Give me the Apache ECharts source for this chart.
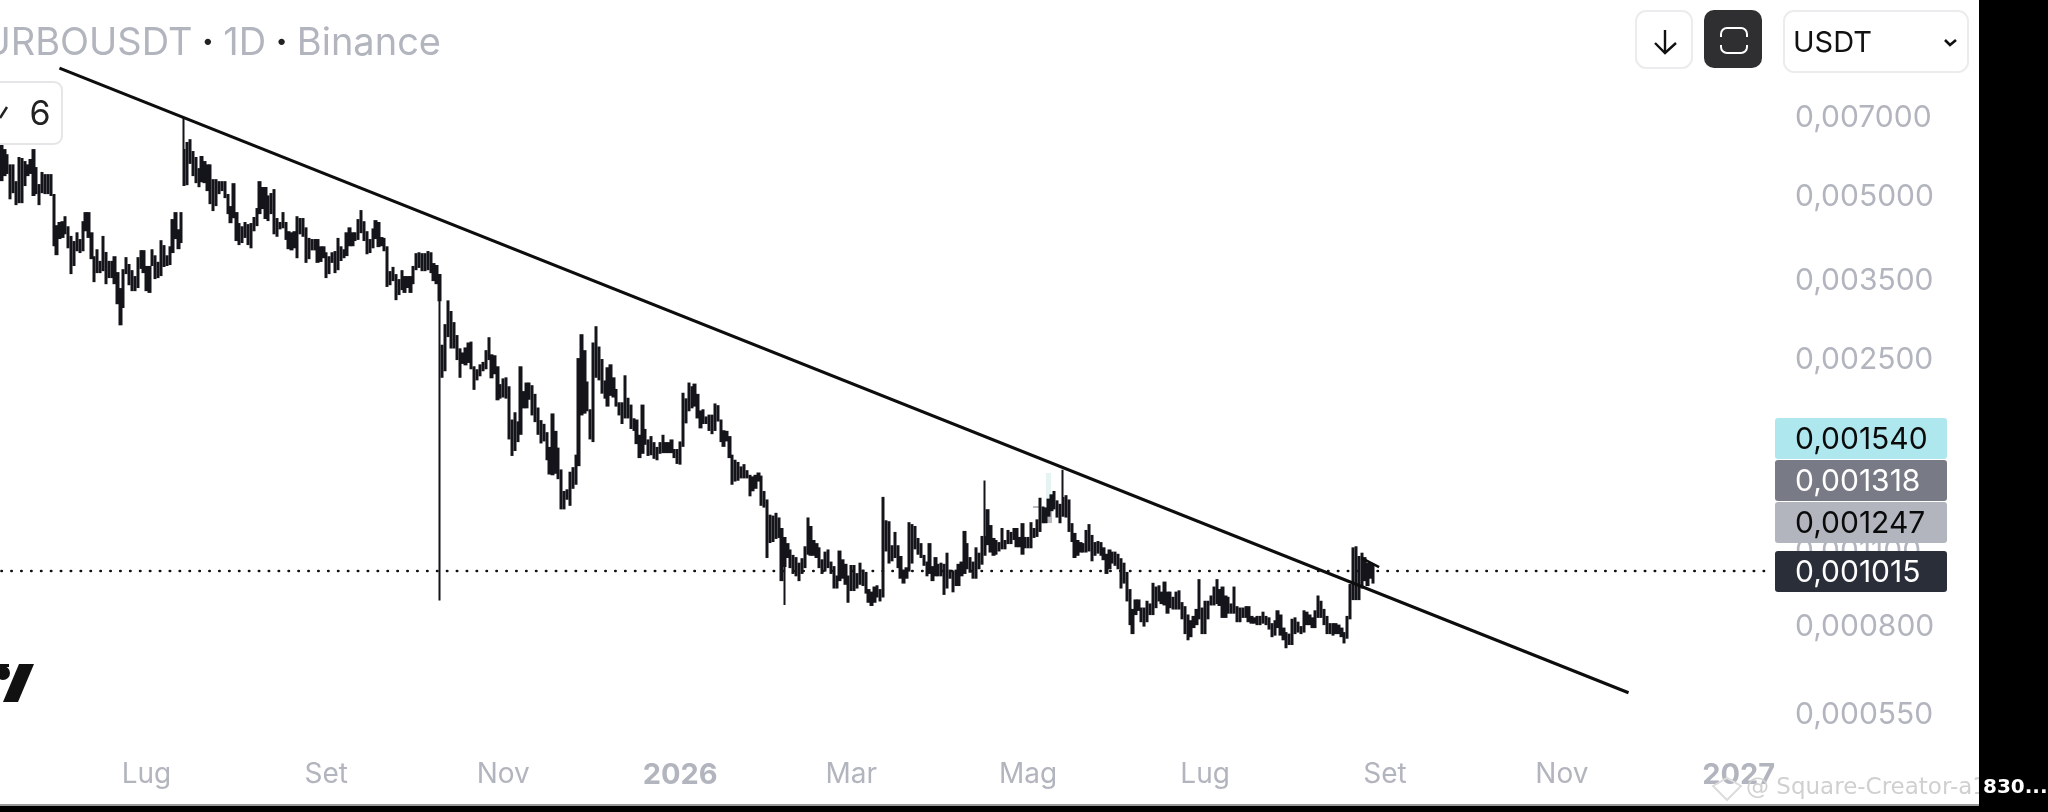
<!DOCTYPE html>
<html>
<head>
<meta charset="utf-8">
<style>html,body{margin:0;padding:0;background:#fff}#c{width:2048px;height:812px}</style>
<script src="https://cdn.jsdelivr.net/npm/echarts@6/dist/echarts.min.js"></script>
</head>
<body>
<div id="c"></div>
<script>
// prices in millionths of USDT, one per daily candle, starting 2025-05-12
const firstDay = '2025-05-12';
const dayCount = 612;
const bodyHigh = [
6160,6030,5900,5650,5650,5260,5830,5805,5730,5650,
5780,6030,5585,5195,5470,5420,5420,5420,4980,4360,
4420,4435,4530,4340,4165,4075,4230,4110,4435,4610,
4610,4230,3820,3935,3745,4165,3890,3745,3745,3820,
3570,3335,3615,3805,3695,3600,3510,3805,3920,3920,
3665,3665,3935,3835,3730,4090,4005,3835,3985,4475,
4610,4285,4610,6030,6215,6290,5980,5830,5560,5855,
5730,5650,5650,5305,5305,5260,5260,5260,4980,4730,
5215,4610,4400,4340,4420,4380,4400,4515,4690,5260,
5130,5130,4950,5000,5085,4495,4420,4610,4420,4250,
4230,4250,4530,4495,4495,4320,4130,4110,4110,4110,
3985,3985,3885,3820,3885,3905,4130,3985,3935,4230,
4320,4230,4230,4475,4650,4435,4250,4110,4300,4455,
4420,4145,4130,3985,3585,3650,3540,3465,3600,3510,
3510,3510,3665,3870,3885,3870,3870,3905,3885,3710,
3680,3540,2620,2860,3165,3025,2885,2730,2580,2535,
2590,2645,2655,2390,2360,2410,2435,2560,2705,2515,
2505,2390,2215,2270,2280,2195,1905,1965,1890,2390,
2150,2230,2230,2205,2125,2005,1900,1870,1805,1695,
1955,1815,1690,1540,1405,1415,1525,1555,1640,2475,
2740,2560,2240,1990,2645,2835,2600,2465,2250,2380,
2410,2280,2170,2050,2050,2300,2090,2030,1915,1905,
1785,2030,1830,1750,1775,1730,1695,1730,1785,1730,
1730,1750,1680,1680,1735,2135,2085,2230,2195,2220,
2125,1980,1990,1930,1945,1945,2040,2025,1905,1820,
1815,1775,1640,1605,1590,1560,1575,1535,1505,1495,
1505,1520,1500,1405,1355,1270,1265,1280,1255,1200,
1155,1125,1095,1070,1060,1035,1055,1110,1255,1210,
1140,1125,1105,1050,1085,1095,1040,1020,980,1090,
1050,1030,980,1025,1025,990,1035,1005,995,925,
915,935,940,925,1370,1240,1235,1115,1180,1115,
1065,1005,1015,1230,1220,1210,1150,1125,1070,1040,
1125,1020,1060,1030,1035,1030,1080,1005,1000,1005,
1030,1040,1185,1125,1060,1040,1105,1080,1160,1160,
1300,1215,1150,1140,1130,1200,1140,1190,1180,1200,
1200,1155,1225,1155,1155,1230,1200,1245,1365,1315,
1310,1360,1385,1405,1350,1330,1370,1380,1355,1225,
1175,1140,1130,1125,1190,1220,1165,1130,1135,1130,
1105,1075,1095,1085,1085,1075,1055,1035,995,925,
850,885,885,855,855,880,870,950,935,940,
915,955,915,915,895,915,920,875,860,830,
810,825,850,965,855,880,880,900,935,965,
925,935,900,895,870,935,860,855,855,860,
860,825,820,825,825,840,825,820,800,810,
845,830,785,770,765,815,820,805,790,845,
840,830,820,845,900,880,850,825,800,800,
800,795,785,770,825,945,1105,1110,1065,1080,
1060,1035,1035,1030];
const bodyLow = [
5305,5420,5470,4910,5040,4790,4830,4830,5195,5420,
5470,4980,5020,4790,5040,5020,5020,4980,4020,3870,
4145,4165,4230,3985,3570,3695,3935,3905,3935,4285,
4165,3805,3450,3585,3585,3615,3420,3510,3510,3420,
3140,2870,3090,3570,3405,3320,3320,3365,3650,3585,
3320,3295,3695,3495,3510,3540,3680,3695,3710,3905,
4145,3970,4075,5195,5215,5710,5420,5260,5170,5280,
5260,5085,4810,4670,4770,5020,5085,4935,4610,4435,
4530,4110,4040,4075,4165,4040,3985,4285,4380,4610,
4710,4515,4475,4610,4230,4185,4320,4340,4130,3970,
3950,3985,3820,4230,4185,3745,3805,3950,3950,3745,
3760,3820,3510,3570,3745,3585,3630,3775,3820,3855,
4020,4020,4110,4130,4250,4110,3885,3905,3985,4145,
4005,4020,3935,3380,3405,3465,3195,3265,3335,3295,
3365,3295,3420,3630,3665,3615,3615,3630,3585,3465,
3420,3180,2295,2360,2730,2600,2600,2475,2295,2435,
2420,2445,2380,2180,2270,2310,2360,2380,2475,2290,
2330,2085,2100,2110,2100,1765,1645,1680,1745,1800,
2015,2015,2090,1955,1900,1800,1735,1750,1615,1520,
1515,1525,1490,1310,1310,1365,1330,1430,1455,1575,
1955,1970,1990,1765,1745,2295,2270,2145,2100,2030,
2125,2110,2030,1955,1885,1930,1930,1845,1830,1730,
1630,1660,1725,1645,1650,1625,1615,1660,1665,1665,
1665,1665,1630,1590,1585,1710,1890,1990,2015,2030,
1930,1850,1885,1885,1830,1805,1830,1905,1745,1710,
1750,1630,1455,1475,1480,1495,1495,1495,1385,1415,
1430,1475,1330,1320,1065,1135,1140,1155,1160,965,
1025,1065,1020,995,985,965,995,1020,1080,1075,
1075,1065,1020,995,1005,1020,995,935,935,965,
975,950,880,925,925,935,950,945,915,880,
868,880,900,885,900,1095,1040,1050,1065,1020,
975,955,975,1005,1040,1105,1080,1065,1030,985,
995,965,985,985,985,910,935,975,920,945,
945,985,995,1015,1000,975,975,1015,1035,1075,
1125,1090,1075,1080,1095,1105,1105,1130,1130,1150,
1115,1115,1080,1110,1110,1110,1160,1165,1190,1235,
1235,1270,1300,1310,1265,1235,1270,1265,1190,1140,
1065,1075,1090,1090,1090,1095,1050,1075,1085,1075,
1055,995,1015,1040,1030,1015,935,955,885,800,
770,835,850,810,795,810,835,835,860,885,
875,870,840,860,855,855,855,820,770,750,
760,790,800,820,770,770,820,870,870,875,
868,825,825,840,840,840,810,810,825,825,
810,805,805,800,800,805,800,785,760,765,
790,765,750,725,735,735,770,775,770,775,
800,800,790,790,825,825,800,770,770,765,
770,770,760,740,755,820,890,890,890,935,
965,945,975,955];
// candles with a long thin wick: [candle number, low, high]
const longWicks = [[63,5195,6930],[151,885,3540],[270,868,1155],[339,1075,1475],[366,1270,1545]];

const trendDates = ['2025-06-01','2026-11-24'];
const trendPrices = [8550,597];
const flagDates = ['2026-08-24','2026-08-30'];
const flagPrices = [1060,1020];
const priceLineDates = ['2025-05-12','2027-01-10'];
const priceLineValue = 1003;

const yTicks = [7000,5000,3500,2500,1100,800,550];
const xTickDates = ['2025-07-01','2025-09-01','2025-11-01','2026-01-01','2026-03-01','2026-05-01','2026-07-01','2026-09-01','2026-11-01','2027-01-01'];
const xTickLabels = ['Lug','Set','Nov','2026','Mar','Mag','Lug','Set','Nov','2027'];
const priceTags = [
  ['0,001540','#aee8ee','#0a0a0a',418],
  ['0,001318','#787b86','#ffffff',460],
  ['0,001247','#b2b5be','#0a0a0a',502],
  ['0,001015','#2a2e39','#ffffff',551]
];

const micro = v => v * 1e-6;
const dateAt = i => new Date(Date.UTC(2025,4,12+i)).toISOString().slice(0,10);
const categories = Array.from({length:dayCount},(_, i)=>dateAt(i));
const candles = bodyHigh.map((h,i)=>{
  let l = bodyLow[i], lo = l, hi = h;
  const w = longWicks.find(x=>x[0]===i);
  if (w) { lo = w[1]; hi = w[2]; }
  return [micro(l),micro(h),micro(lo),micro(hi)];
});
const INK = '#14151a', FAINT = '#b2b5be', FONT = 'Inter';

const graphic = [
  {type:'text',z:50,style:{x:441,y:44,align:'right',verticalAlign:'middle',fontFamily:FONT,fontSize:38,fill:FAINT,
    text:'TURBOUSDT{d| · }1D{d| · }Binance',rich:{d:{fill:'#222',fontSize:38,fontFamily:FONT,fontWeight:700}}}},
  {type:'rect',z:50,shape:{x:-12,y:82,width:74,height:62,r:8},style:{fill:'#fff',stroke:'#e6e6e8',lineWidth:2}},
  {type:'polyline',z:51,shape:{points:[[0,118],[7,107]]},style:{stroke:'#222',lineWidth:2.5,fill:null}},
  {type:'text',z:51,style:{x:40,y:115,align:'center',verticalAlign:'middle',text:'6',fontFamily:FONT,fontSize:34,fill:'#222'}},
  // logo fragment
  {type:'polygon',z:50,shape:{points:[[19,664],[34,664],[18,702],[3,702]]},style:{fill:'#111'}},
  {type:'circle',z:50,shape:{cx:3,cy:673,r:7},style:{fill:'#111'}},
  {type:'rect',z:50,shape:{x:0,y:664,width:9,height:3},style:{fill:'#111'}},
  // faint drawing remnant around the May 2026 top
  {type:'rect',z:0,shape:{x:1046,y:473,width:5,height:37},style:{fill:'#e6f3f3'}},
  {type:'rect',z:0,shape:{x:1047,y:510,width:5,height:13},style:{fill:'#b9b9bd'}},
  {type:'rect',z:0,shape:{x:1033,y:506,width:6,height:2},style:{fill:'#b9b9bd'}},
  // buttons
  {type:'rect',z:50,shape:{x:1636,y:11,width:56,height:57,r:10},style:{fill:'#fff',stroke:'#ececee',lineWidth:2}},
  {type:'polyline',z:51,shape:{points:[[1665,30],[1665,52]]},style:{stroke:'#111',lineWidth:2.4,fill:null}},
  {type:'polyline',z:51,shape:{points:[[1655,43],[1665,53],[1676,43]]},style:{stroke:'#111',lineWidth:2.4,fill:null}},
  {type:'rect',z:50,shape:{x:1704,y:10,width:58,height:58,r:10},style:{fill:'#2f2f31'}},
  {type:'rect',z:51,shape:{x:1721,y:28,width:26,height:25,r:6},style:{fill:'none',stroke:'#fff',lineWidth:2}},
  {type:'rect',z:52,shape:{x:1719,y:37,width:4,height:8},style:{fill:'#2f2f31'}},
  {type:'rect',z:52,shape:{x:1745,y:37,width:4,height:8},style:{fill:'#2f2f31'}},
  {type:'rect',z:50,shape:{x:1784,y:11,width:184,height:61,r:10},style:{fill:'#fff',stroke:'#ececee',lineWidth:2}},
  {type:'text',z:51,style:{x:1793,y:43,verticalAlign:'middle',text:'USDT',fontFamily:FONT,fontSize:29,fill:'#111'}},
  {type:'polyline',z:51,shape:{points:[[1945,40],[1950,45],[1956,40]]},style:{stroke:'#111',lineWidth:2.6,fill:null}},
];
priceTags.forEach(t=>{
  graphic.push({type:'rect',z:60,shape:{x:1775,y:t[3],width:172,height:41,r:3},style:{fill:t[1]}});
  graphic.push({type:'text',z:61,style:{x:1795,y:t[3]+22,verticalAlign:'middle',text:t[0],fontFamily:FONT,fontSize:30,fill:t[2]}});
});
graphic.push(
  {type:'polygon',z:65,shape:{points:[[1713,786],[1727,778],[1741,786],[1727,800]]},style:{fill:'none',stroke:'#dcdcdc',lineWidth:2}},
  {type:'text',z:65,style:{x:1746,y:788,verticalAlign:'middle',text:'@ Square-Creator-a1',fontFamily:'DejaVu Sans',fontSize:23,fill:'#d0d0d0'}},
  {type:'rect',z:70,shape:{x:1979,y:0,width:69,height:812},style:{fill:'#000'}},
  {type:'rect',z:70,shape:{x:0,y:806,width:2048,height:6},style:{fill:'#000'}},
  {type:'rect',z:70,shape:{x:0,y:804,width:1979,height:2},style:{fill:'#9a9a9a'}},
  {type:'text',z:71,style:{x:1983,y:788,verticalAlign:'middle',text:'830...',fontFamily:'DejaVu Sans',fontSize:20,fontWeight:700,fill:'#fff'}}
);

const chart = echarts.init(document.getElementById('c'),null,{renderer:'canvas'});
chart.setOption({
  animation:false,
  backgroundColor:'#fff',
  grid:{left:0,top:0,width:1775,height:745},
  xAxis:{type:'category',data:categories,boundaryGap:true,
    axisLine:{show:false},axisTick:{show:false},splitLine:{show:false},
    axisLabel:{margin:16,fontFamily:FONT,fontSize:28,color:FAINT,hideOverlap:false,
      interval:(i,v)=>xTickDates.includes(v),
      formatter:v=>{const l=xTickLabels[xTickDates.indexOf(v)];return /^\d/.test(l)?'{b|'+l+'}':l;},
      rich:{b:{fontFamily:FONT,fontSize:29,fontWeight:700,color:FAINT}}}},
  yAxis:{type:'log',logBase:10,position:'right',min:0.000478,max:0.01143,scale:true,
    axisLine:{show:false},axisTick:{show:false},splitLine:{show:false},
    axisLabel:{margin:20,align:'left',
      customValues:yTicks.map(micro),
      formatter:v=>'{v|'+Number(v).toFixed(6).replace('.',',')+'}',
      rich:{v:{fontFamily:FONT,fontSize:30,color:FAINT,padding:[6,0,0,0]}}}},
  graphic:graphic,
  series:[
    {type:'line',silent:true,symbol:'none',z:1,
      data:priceLineDates.map(d=>[d,micro(priceLineValue)]),
      lineStyle:{color:'#111',width:2.6,type:[0.4,9.5],cap:'round'}},
    {type:'candlestick',silent:true,z:3,barWidth:1.8,data:candles,
      itemStyle:{color:INK,color0:INK,borderColor:INK,borderColor0:INK,borderWidth:2}},
    {type:'line',silent:true,symbol:'none',z:4,
      data:trendDates.map((d,i)=>[d,micro(trendPrices[i])]),
      lineStyle:{color:'#0d0d0d',width:3.2}},
    {type:'line',silent:true,symbol:'none',z:4,
      data:flagDates.map((d,i)=>[d,micro(flagPrices[i])]),
      lineStyle:{color:'#0d0d0d',width:2.6}}
  ]
});
</script>
</body>
</html>
